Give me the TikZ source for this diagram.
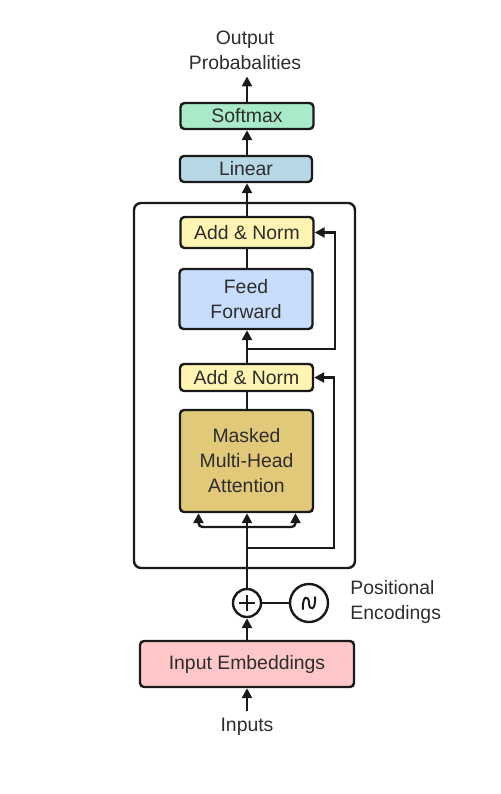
\documentclass[tikz,border=0pt]{standalone}
\usepackage{fontspec}
\setmainfont{Liberation Sans}
\usetikzlibrary{arrows.meta, calc}
\definecolor{boxGreen}{RGB}{169, 235, 201}
\definecolor{boxLinear}{RGB}{183, 216, 230}
\definecolor{boxYellow}{RGB}{255, 244, 178}
\definecolor{boxBlue}{RGB}{200, 221, 252}
\definecolor{boxGold}{RGB}{226, 200, 121}
\definecolor{boxPink}{RGB}{255, 199, 199}
\definecolor{lineDark}{RGB}{26, 26, 26}
\definecolor{textDark}{RGB}{45, 45, 45}

\begin{document}
\begin{tikzpicture}[x=0.5pt, y=-0.5pt, >={Triangle[length=5pt, width=5pt]},
    every node/.style={text=textDark, font=\fontsize{9.7}{12.5}\selectfont},
    blk/.style={draw=lineDark, line width=1.2pt, rounded corners=2pt, align=center, inner sep=0pt, minimum width=66.5pt},
    conn/.style={draw=lineDark, line width=1.2pt}]
    \useasboundingbox (0,0) rectangle (500,794);

    \node[draw=lineDark, line width=1.2pt, rounded corners=3.5pt, minimum width=110.5pt, minimum height=182.5pt] (dec) at (244.5,385.5) {};

    \node[blk, fill=boxGreen, minimum height=13pt] (softmax) at (247,116) {Softmax};
    \node[blk, fill=boxLinear, minimum width=66pt, minimum height=13pt] (linear) at (246,169) {Linear};
    \node[blk, fill=boxYellow, minimum height=15.5pt] (addA) at (247,232.5) {Add \& Norm};
    \node[blk, fill=boxBlue, minimum height=30pt] (ff) at (246,299) {Feed\\Forward};
    \node[blk, fill=boxYellow, minimum height=13.5pt] (addB) at (246.5,377.5) {Add \& Norm};
    \node[blk, fill=boxGold, minimum height=51pt] (mha) at (246.5,461) {Masked\\Multi-Head\\Attention};
    \node[draw=lineDark, line width=1.2pt, circle, minimum size=14pt, inner sep=0pt] (plus) at (247,603) {};
    \node[draw=lineDark, line width=1.2pt, circle, minimum size=19pt, inner sep=0pt] (sine) at (309,603) {};
    \node[blk, fill=boxPink, minimum width=107pt, minimum height=23pt] (emb) at (247,664) {Input Embeddings};

    \node[align=center] (out) at (245,50) {Output\\Probabalities};
    \node[align=left, anchor=west, inner sep=0pt] (pos) at (350,602) {Positional\\Encodings};
    \node (inp) at (247,727) {Inputs};

    \draw[conn] ($(plus)+(-8,0)$) -- ($(plus)+(8,0)$) ($(plus)+(0,-8)$) -- ($(plus)+(0,8)$);
    \draw[conn] (plus.east) -- (sine.west);
    \draw[conn, line width=1pt, line cap=round] ($(sine)+(-6,6)$) .. controls ($(sine)+(-7,-8)$) and ($(sine)+(0,-8)$) .. (sine.center)
        .. controls ($(sine)+(0,8)$) and ($(sine)+(7,8)$) .. ($(sine)+(6,-6)$);

    \draw[conn, ->] (inp.north) -- (emb.south -| inp.north);
    \draw[conn, ->] (emb.north -| plus) -- (plus.south);
    \draw[conn, ->] (plus.north) -- (plus |- mha.south);
    \coordinate (qk) at (247,527);
    \draw[conn, ->, rounded corners=2pt] (qk) -| ($(mha.south)+(-48,0)$);
    \draw[conn, ->, rounded corners=2pt] (qk) -| ($(mha.south)+(49,0)$);
    \draw[conn] (mha.north -| plus) -- (addB.south -| plus);
    \draw[conn, ->] (addB.north -| plus) -- (ff.south -| plus);
    \draw[conn] (ff.north -| plus) -- (addA.south -| plus);
    \draw[conn, ->] (addA.north -| plus) -- (linear.south -| plus);
    \draw[conn, ->] (linear.north -| plus) -- (softmax.south -| plus);
    \draw[conn, ->] (softmax.north -| plus) -- (out.south -| plus);

    \coordinate (resA) at (247,349);
    \coordinate (resB) at (247,548);
    \draw[conn, ->] (resA) -- (335,349) |- (addA.east);
    \draw[conn, ->] (resB) -- (334,548) |- (addB.east);
\end{tikzpicture}
\end{document}
